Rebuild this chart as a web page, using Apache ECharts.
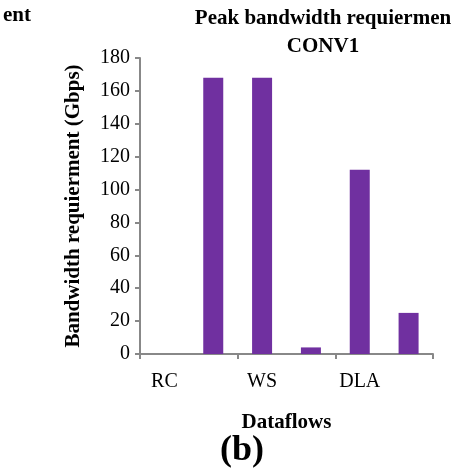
<!DOCTYPE html>
<html>
<head>
<meta charset="utf-8">
<script src="https://cdn.jsdelivr.net/npm/echarts@6/dist/echarts.min.js"></script>
<style>html,body{margin:0;padding:0;background:#fff}</style>
</head>
<body>
<div id="chart" style="width:474px;height:474px"></div>
<script>
// data
var categories = ['RC', 'NLR', 'WS', 'Shi', 'DLA', 'RS'];
var bandwidth = [0, 168, 168, 4, 112, 25];

var serif = 'Liberation Serif, Times New Roman, serif';
var myChart = echarts.init(document.getElementById('chart'));
myChart.setOption({
    animation: false,
    backgroundColor: '#fff',
    title: [
        { text: 'Peak bandwidth requiermen\nCONV1', left: 318, top: 0, textAlign: 'center',
          textStyle: { fontFamily: serif, fontSize: 21, fontWeight: 'bold', color: '#000', lineHeight: 28 } },
        { text: 'ent', left: -2, top: 0,
          textStyle: { fontFamily: serif, fontSize: 21, fontWeight: 'bold', color: '#000' } },
        { text: '(b)', left: 237, top: 428, textAlign: 'center',
          textStyle: { fontFamily: serif, fontSize: 36, fontWeight: 'bold', color: '#000' } }
    ],
    grid: { left: 140, right: 41, top: 58, bottom: 120 },
    xAxis: {
        type: 'category',
        data: categories,
        name: 'Dataflows',
        nameLocation: 'middle',
        nameGap: 58,
        nameTextStyle: { fontFamily: serif, fontSize: 21, fontWeight: 'bold', color: '#000' },
        axisLine: { lineStyle: { color: '#888', width: 2 } },
        axisTick: { show: true, length: 5, lineStyle: { color: '#888', width: 2 } },
        axisLabel: { fontFamily: serif, fontSize: 20, color: '#000', margin: 18 }
    },
    yAxis: {
        type: 'value',
        min: 0, max: 180, interval: 20,
        name: 'Bandwidth requierment (Gbps)',
        nameLocation: 'middle',
        nameGap: 56,
        nameTextStyle: { fontFamily: serif, fontSize: 21, fontWeight: 'bold', color: '#000' },
        axisLine: { show: true, lineStyle: { color: '#888', width: 2 } },
        axisTick: { show: true, length: 5, lineStyle: { color: '#888', width: 2 } },
        splitLine: { show: false },
        axisLabel: { fontFamily: serif, fontSize: 20, color: '#000', margin: 10 }
    },
    series: [{
        type: 'bar',
        data: bandwidth,
        barWidth: 20,
        itemStyle: { color: '#7030a0' }
    }]
});
</script>
</body>
</html>
